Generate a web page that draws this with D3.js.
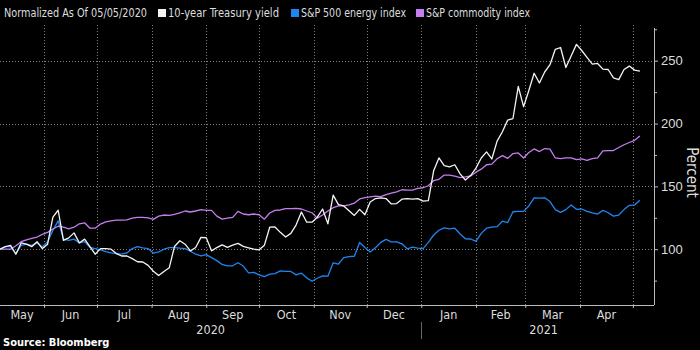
<!DOCTYPE html>
<html>
<head>
<meta charset="utf-8">
<script src="https://cdn.jsdelivr.net/npm/d3@7"></script>
<style>
  body { margin: 0; background: #000; }
  svg { display: block; font-family: "Liberation Sans Narrow", "DejaVu Sans Condensed", "Roboto", sans-serif; }
</style>
</head>
<body>
<svg id="chart" width="700" height="350"></svg>
<script>
// sample dates (every third day from the normalisation date)
const dates = [
  "2020-05-07","2020-05-10","2020-05-13","2020-05-16","2020-05-19","2020-05-22","2020-05-25","2020-05-28","2020-05-31",
  "2020-06-03","2020-06-06","2020-06-09","2020-06-12","2020-06-15","2020-06-18","2020-06-21","2020-06-24","2020-06-27","2020-06-30",
  "2020-07-03","2020-07-06","2020-07-09","2020-07-12","2020-07-15","2020-07-18","2020-07-21","2020-07-24","2020-07-27","2020-07-30",
  "2020-08-02","2020-08-05","2020-08-08","2020-08-11","2020-08-14","2020-08-17","2020-08-20","2020-08-23","2020-08-26","2020-08-29",
  "2020-09-01","2020-09-04","2020-09-07","2020-09-10","2020-09-13","2020-09-16","2020-09-19","2020-09-22","2020-09-25","2020-09-28",
  "2020-10-01","2020-10-04","2020-10-07","2020-10-10","2020-10-13","2020-10-16","2020-10-19","2020-10-22","2020-10-25","2020-10-28","2020-10-31",
  "2020-11-03","2020-11-06","2020-11-09","2020-11-12","2020-11-15","2020-11-18","2020-11-21","2020-11-24","2020-11-27","2020-11-30",
  "2020-12-03","2020-12-06","2020-12-09","2020-12-12","2020-12-15","2020-12-18","2020-12-21","2020-12-24","2020-12-27","2020-12-30",
  "2021-01-02","2021-01-05","2021-01-08","2021-01-11","2021-01-14","2021-01-17","2021-01-20","2021-01-23","2021-01-26","2021-01-29",
  "2021-02-01","2021-02-04","2021-02-07","2021-02-10","2021-02-13","2021-02-16","2021-02-19","2021-02-22","2021-02-25","2021-02-28",
  "2021-03-03","2021-03-06","2021-03-09","2021-03-12","2021-03-15","2021-03-18","2021-03-21","2021-03-24","2021-03-27","2021-03-30",
  "2021-04-02","2021-04-05","2021-04-08","2021-04-11","2021-04-14","2021-04-17","2021-04-20","2021-04-23","2021-04-26","2021-04-29",
  "2021-05-02","2021-05-05"
];

const treasury = [
  100,102,103,96,105,104,102,106,100.5,104,125.5,131,107,109,113,105,108,102,96,100.5,
  100.5,100,96.5,94.6,94.6,92.5,90,89.8,87.1,82.5,79,82.3,85.2,102.2,106.7,104,98.7,101.3,109.4,109.1,
  98.7,101.3,103.5,101.5,103.2,104.6,102.2,101.1,100,99.5,103.2,117.5,117.7,113.4,109.7,112.6,119.4,129.6,121.5,121.5,
  125.5,132,120.2,143,135.5,134.4,130.6,126.9,131.7,127.4,137.6,140.3,140.9,140.3,136,136.3,139.8,140.3,139.8,140.3,
  138.2,138.7,162.4,172.6,166.5,165.5,167.2,160,155.1,158.6,164.5,172.6,177.4,171.8,186,193.5,202.7,204,229.6,213.4,
  226.3,240,232.3,241,246.8,259.1,260.5,244.6,253.8,263,258.1,252.7,247.3,247.8,243.3,243,236.3,234.9,243,245.7,
  242.5,241.7
];

const energy = [
  100,102,102,96.5,103,104,103,105,102,106,115,122.5,108,107,108,105,106,101.5,100.5,99.5,
  98,97,96.5,96,97,100.5,102,101,100.5,96.8,97.8,100,101.3,101.3,100.8,100.5,98.4,96,94.6,95.7,
  93.3,90.9,87.9,86.8,86.8,89.2,86.6,81.2,81.5,79.6,78.2,80.1,80.6,82.8,82.3,82.3,79.6,80.9,77.2,74.5,
  76.9,78.8,78.5,89.2,88.2,93.3,94.1,94.4,105.4,101.3,97.8,101.1,105.4,107.8,105.9,105.9,104.3,100.3,101.6,100.8,
  100.5,105.4,111.3,115.1,117,116.1,116.7,112.1,108.3,108.1,106.2,112.6,116.7,117.5,118,122.3,121.2,129.8,130.1,130.1,
  134.4,140.9,140.6,140.9,137.9,131.5,129.3,131.5,135.2,131.7,132,130.1,129,128,130.9,129,126.3,127.2,131.5,134.9,
  135.2,139
];

const commodity = [
  100,100,100,102.7,106,107.5,108.6,109.7,111.8,113.4,116.1,118.3,117.5,116.1,117.5,120.2,121,116.7,116.7,120,
  121.8,122.6,123.1,123.1,123.4,124.7,125.3,125.3,125,123.7,126.3,127.2,126.9,127.7,129,130.4,129.6,130.4,131.5,130.9,
  130.9,126.3,123.9,124.7,125.3,130.1,128,127.4,128,127.4,123.9,128.8,130.9,131.2,132.3,132.3,132.5,132,130.4,129,
  124.7,127.2,130.4,133,134.4,134.4,135.2,136.6,140,141.1,141.7,142.2,141.9,143.5,144.6,145.7,147.3,147,147,148.4,
  148.9,150.5,154.6,155.6,159,158.9,158.1,157,157.5,158.3,161.3,163.7,167.2,167.7,172,174.5,172.3,176.1,176.6,172.6,
  176.9,179.8,177.7,180.1,179.6,172.6,172,172.6,172.6,171.2,171.8,170.7,172,172.6,178.2,178.5,178.5,180.9,183.1,184.9,
  186.6,190.1
];

const seriesNames = ["10-year Treasury yield", "S&P 500 energy index", "S&P commodity index"];
const seriesColors = ["#f4f4f4", "#1f86ef", "#c47ef0"];
const yTicks = [100, 150, 200, 250];
const yMinorTicks = [75, 125, 175, 225, 275];
const monthStarts = ["2020-06-01","2020-07-01","2020-08-01","2020-09-01","2020-10-01","2020-11-01",
  "2020-12-01","2021-01-01","2021-02-01","2021-03-01","2021-04-01","2021-05-01"];
const monthNames = ["May","Jun","Jul","Aug","Sep","Oct","Nov","Dec","Jan","Feb","Mar","Apr"];
const years = ["2020", "2021"];

const parse = d3.timeParse("%Y-%m-%d");
const svg = d3.select("#chart");

const plotLeft = 0, plotRight = 654, plotTop = 24, plotBottom = 305;

const x = d3.scaleTime()
  .domain([parse("2020-05-07"), parse("2021-05-13")])
  .range([plotLeft, plotRight]);
const y = d3.scaleLinear()
  .domain([55.6, 279.2])
  .range([plotBottom, plotTop]);

// ── gridlines (dotted) ───────────────────────────────────
const gridV = svg.append("g")
  .attr("transform", `translate(0,${plotBottom})`)
  .call(d3.axisBottom(x).tickValues(monthStarts.map(parse)).tickSize(-(plotBottom - plotTop)).tickFormat(""));
gridV.select(".domain").remove();
gridV.selectAll(".tick").attr("transform", d => `translate(${Math.round(x(d)) + 0.5},0)`);

const gridH = svg.append("g")
  .attr("transform", `translate(${plotLeft},0)`)
  .call(d3.axisRight(y).tickValues(yTicks).tickSize(plotRight - plotLeft).tickFormat(""));
gridH.select(".domain").remove();
gridH.selectAll(".tick").attr("transform", d => `translate(0,${Math.round(y(d)) + 0.5})`);

svg.selectAll(".tick line")
  .attr("stroke", "#808080")
  .attr("stroke-width", 1)
  .attr("stroke-dasharray", "1,2");

// ── lines ────────────────────────────────────────────────
svg.append("clipPath").attr("id", "plot-clip")
  .append("rect").attr("x", plotLeft).attr("y", plotTop)
  .attr("width", plotRight - plotLeft).attr("height", plotBottom - plotTop);

const allSeries = [treasury, energy, commodity];
const line = d3.line()
  .x((d, i) => x(parse(dates[i])))
  .y(d => y(d));

// energy first, then commodity, treasury on top
[1, 2, 0].forEach(k => {
  svg.append("path")
    .datum(allSeries[k])
    .attr("clip-path", "url(#plot-clip)")
    .attr("fill", "none")
    .attr("stroke", seriesColors[k])
    .attr("stroke-width", 1.3)
    .attr("stroke-linejoin", "round")
    .attr("d", line);
});

// ── y axis (right) ───────────────────────────────────────
const yAxis = svg.append("g")
  .attr("transform", `translate(${plotRight},0)`)
  .call(d3.axisRight(y).tickValues(yTicks).tickSize(4).tickPadding(3));
yAxis.select(".domain").remove();
yAxis.selectAll("line").attr("stroke", "#bbb");
yAxis.selectAll("text").attr("fill", "#ddd").style("font-size", "13px").style("font-family", "inherit");

const yMinor = svg.append("g")
  .attr("transform", `translate(${plotRight},0)`)
  .call(d3.axisRight(y).tickValues(yMinorTicks).tickSize(3).tickFormat(""));
yMinor.select(".domain").remove();
yMinor.selectAll("line").attr("stroke", "#bbb");

svg.append("line")
  .attr("x1", plotRight + 0.5).attr("x2", plotRight + 0.5).attr("y1", plotTop + 4).attr("y2", plotBottom)
  .attr("stroke", "#bbb");

svg.append("text")
  .attr("transform", `translate(687,${(plotTop + plotBottom) / 2 + 8}) rotate(90)`)
  .attr("text-anchor", "middle")
  .attr("fill", "#ddd")
  .style("font-size", "15px")
  .text("Percent");

// ── x axis ───────────────────────────────────────────────
svg.append("line")
  .attr("x1", plotLeft).attr("x2", plotRight).attr("y1", plotBottom + 0.5).attr("y2", plotBottom + 0.5)
  .attr("stroke", "#bbb");

const xAxis = svg.append("g")
  .attr("transform", `translate(0,${plotBottom})`)
  .call(d3.axisBottom(x).tickValues(monthStarts.map(parse)).tickSize(3).tickFormat(""));
xAxis.select(".domain").remove();
xAxis.selectAll("line").attr("stroke", "#bbb");

const bounds = [x.domain()[0], ...monthStarts.map(parse)];
svg.append("g").selectAll("text")
  .data(monthNames)
  .join("text")
  .attr("x", (d, i) => (x(bounds[i]) + x(bounds[i + 1])) / 2)
  .attr("y", plotBottom + 14)
  .attr("text-anchor", "middle")
  .attr("fill", "#ddd")
  .style("font-size", "12.5px")
  .text(d => d);

const jan = parse("2021-01-01");
const yearSpans = [[x.domain()[0], jan], [jan, x.domain()[1]]];
svg.append("g").selectAll("text")
  .data(years)
  .join("text")
  .attr("x", (d, i) => (x(yearSpans[i][0]) + x(yearSpans[i][1])) / 2 + (i === 1 ? 6 : 0))
  .attr("y", plotBottom + 29)
  .attr("text-anchor", "middle")
  .attr("fill", "#ddd")
  .style("font-size", "12.5px")
  .text(d => d);

svg.append("line")
  .attr("x1", Math.round(x(jan)) + 0.5).attr("x2", Math.round(x(jan)) + 0.5)
  .attr("y1", plotBottom + 17).attr("y2", plotBottom + 34)
  .attr("stroke", "#666");

// ── legend ───────────────────────────────────────────────
svg.append("text")
  .attr("x", 4).attr("y", 17)
  .attr("fill", "#ddd")
  .attr("textLength", 143)
  .attr("lengthAdjust", "spacingAndGlyphs")
  .style("font-size", "11.5px")
  .text("Normalized As Of 05/05/2020");

const legendX = [158, 291, 416];
const legendWidths = [111, 105, 104];
const legend = svg.append("g").selectAll("g")
  .data(seriesNames)
  .join("g")
  .attr("transform", (d, i) => `translate(${legendX[i]},0)`);
legend.append("rect")
  .attr("x", 0).attr("y", 9).attr("width", 8).attr("height", 8)
  .attr("fill", (d, i) => seriesColors[i]);
legend.append("text")
  .attr("x", 10).attr("y", 17)
  .attr("fill", "#ddd")
  .attr("textLength", (d, i) => legendWidths[i])
  .attr("lengthAdjust", "spacingAndGlyphs")
  .style("font-size", "11.5px")
  .text(d => d);

// ── source ───────────────────────────────────────────────
svg.append("text")
  .attr("x", 3).attr("y", 346)
  .attr("fill", "#fff")
  .style("font-size", "11px")
  .style("font-weight", "bold")
  .text("Source: Bloomberg");
</script>
</body>
</html>
